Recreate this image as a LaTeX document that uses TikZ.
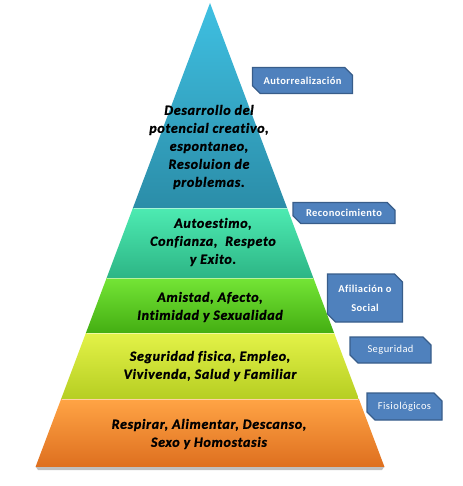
\documentclass[tikz,border=0pt]{standalone}
\usepackage{fontspec}
\setmainfont{Carlito}
\newfontfamily\levelfont{Carlito}[LetterSpace=5, Ligatures=NoCommon, BoldItalicFeatures={FakeBold=1.2}]
\newfontfamily\tagfont{Carlito}[LetterSpace=4, Ligatures=NoCommon]
\usetikzlibrary{shapes.misc}
\definecolor{tagfill}{HTML}{4F81BD}
\definecolor{tagline}{HTML}{385D8A}
\definecolor{selftop}{HTML}{3FC0E2}
\definecolor{selfbot}{HTML}{2B8DA8}
\definecolor{esteemtop}{HTML}{4DEBB2}
\definecolor{esteembot}{HTML}{2DB585}
\definecolor{socialtop}{HTML}{74E536}
\definecolor{socialbot}{HTML}{44AE12}
\definecolor{safetytop}{HTML}{E3F248}
\definecolor{safetybot}{HTML}{B6CE22}
\definecolor{bodytop}{HTML}{FFA445}
\definecolor{bodybot}{HTML}{DE6F1F}

\begin{document}
\begin{tikzpicture}[
  x=1pt, y=-1pt,
  level/.style={font=\levelfont\fontsize{14}{18}\selectfont\bfseries\itshape, align=center, inner sep=0pt},
  tag/.style={chamfered rectangle, chamfered rectangle corners={north east,south west},
    chamfered rectangle xsep=4pt, chamfered rectangle ysep=4pt,
    fill=tagfill, draw=tagline, line width=1.3pt, text=white, align=center,
    font=\tagfont\fontsize{10.5}{15}\selectfont, inner sep=0pt},
  edge/.style={line width=1.2pt}
]
  \useasboundingbox (0,0) rectangle (462,486);

  \shade[top color=selftop, bottom color=selfbot]
    (210,3) -- (287.1,208) -- (132.9,208) -- cycle;
  \shade[top color=esteemtop, bottom color=esteembot]
    (132.9,208) -- (287.1,208) -- (313.4,278) -- (106.6,278) -- cycle;
  \shade[top color=socialtop, bottom color=socialbot]
    (106.6,278) -- (313.4,278) -- (334.1,333) -- (85.9,333) -- cycle;
  \shade[top color=safetytop, bottom color=safetybot]
    (85.9,333) -- (334.1,333) -- (358.9,399) -- (61.1,399) -- cycle;
  \shade[top color=bodytop, bottom color=bodybot]
    (61.1,399) -- (358.9,399) -- (384.5,467) -- (35.5,467) -- cycle;

  \draw[edge, esteemtop!50!white] (133.5,208.5) -- (286.5,208.5);
  \draw[edge, socialtop!50!white] (107.2,278.5) -- (312.8,278.5);
  \draw[edge, safetytop!50!white] (86.5,333.5) -- (333.5,333.5);
  \draw[edge, bodytop!50!white] (61.7,399.5) -- (358.3,399.5);
  \fill[black!25] (36,467) -- (384,467) -- (382,470) -- (38,470) -- cycle;

  \node[level] (self) at (209,147) {Desarrollo del\\potencial creativo,\\espontaneo,\\Resoluion de\\problemas.};
  \node[level] (esteem) at (213,242) {Autoestimo,\\Confianza,\ \ Respeto\\y Exito.};
  \node[level] (social) at (210,307) {Amistad, Afecto,\\Intimidad y Sexualidad};
  \node[level] (safety) at (210,366) {Seguridad fisica, Empleo,\\Vivivenda, Salud y Familiar};
  \node[level] (body) at (209,434) {Respirar, Alimentar, Descanso,\\Sexo y Homostasis};

  \node[tag, minimum width=100pt, minimum height=26pt, font=\tagfont\fontsize{10.5}{15}\selectfont\bfseries] (autorr) at (302.5,80.5) {Autorrealización};
  \node[tag, minimum width=102pt, minimum height=21pt, font=\tagfont\fontsize{10.5}{15}\selectfont\bfseries] (recon) at (344,213) {Reconocimiento};
  \node[tag, minimum width=75pt, minimum height=48pt, font=\tagfont\fontsize{10.5}{19}\selectfont\bfseries] (afil) at (365,298) {Afiliación o\\Social};
  \node[tag, minimum width=81pt, minimum height=26pt] (segur) at (390.5,350) {Seguridad};
  \node[tag, minimum width=75pt, minimum height=27pt] (fisio) at (404.5,406.5) {Fisiológicos};
\end{tikzpicture}
\end{document}
